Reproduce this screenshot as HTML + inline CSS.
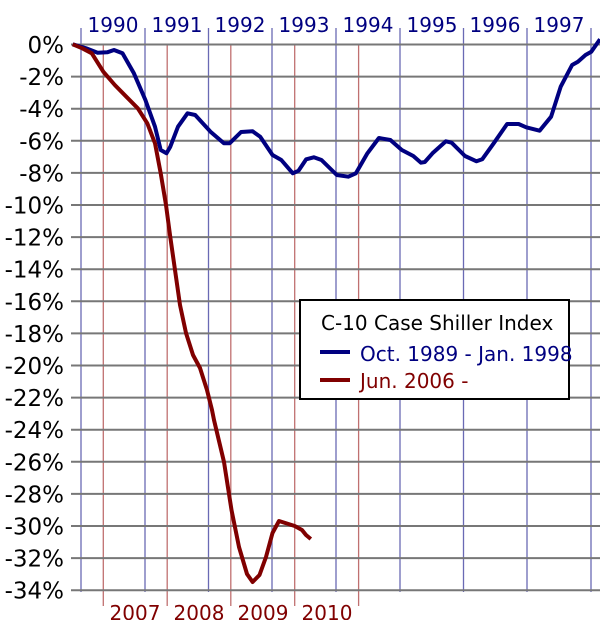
<!DOCTYPE html>
<html><head><meta charset="utf-8"><style>
html,body{margin:0;padding:0;background:#fff;}
svg{display:block;font-family:"DejaVu Sans","Liberation Sans",sans-serif;}
</style></head><body>
<svg width="600" height="620" viewBox="0 0 600 620" xmlns="http://www.w3.org/2000/svg">
<g stroke="#6a6ab4" stroke-width="1.3">
<line x1="81" y1="28" x2="81" y2="592"/><line x1="145" y1="28" x2="145" y2="592"/><line x1="208.5" y1="28" x2="208.5" y2="592"/><line x1="272" y1="28" x2="272" y2="592"/><line x1="336" y1="28" x2="336" y2="592"/><line x1="400" y1="28" x2="400" y2="592"/><line x1="463.5" y1="28" x2="463.5" y2="592"/><line x1="527" y1="28" x2="527" y2="592"/><line x1="591" y1="28" x2="591" y2="592"/>
</g>
<g stroke="#c07070" stroke-width="1.3">
<line x1="103.3" y1="44" x2="103.3" y2="606"/><line x1="167.2" y1="44" x2="167.2" y2="606"/><line x1="230.8" y1="44" x2="230.8" y2="606"/><line x1="294.7" y1="44" x2="294.7" y2="606"/><line x1="358.6" y1="44" x2="358.6" y2="606"/>
</g>
<g stroke="#777" stroke-width="2">
<line x1="71" y1="44.5" x2="600" y2="44.5"/><line x1="71" y1="76.6" x2="600" y2="76.6"/><line x1="71" y1="108.7" x2="600" y2="108.7"/><line x1="71" y1="140.8" x2="600" y2="140.8"/><line x1="71" y1="172.9" x2="600" y2="172.9"/><line x1="71" y1="205" x2="600" y2="205"/><line x1="71" y1="237.1" x2="600" y2="237.1"/><line x1="71" y1="269.2" x2="600" y2="269.2"/><line x1="71" y1="301.3" x2="600" y2="301.3"/><line x1="71" y1="333.4" x2="600" y2="333.4"/><line x1="71" y1="365.5" x2="600" y2="365.5"/><line x1="71" y1="397.6" x2="600" y2="397.6"/><line x1="71" y1="429.7" x2="600" y2="429.7"/><line x1="71" y1="461.8" x2="600" y2="461.8"/><line x1="71" y1="493.9" x2="600" y2="493.9"/><line x1="71" y1="526" x2="600" y2="526"/><line x1="71" y1="558.1" x2="600" y2="558.1"/><line x1="71" y1="590.2" x2="600" y2="590.2"/>
</g>
<g font-size="23" text-anchor="end" fill="#000">
<text x="64" y="53">0%</text><text x="64" y="85.1">-2%</text><text x="64" y="117.2">-4%</text><text x="64" y="149.3">-6%</text><text x="64" y="181.4">-8%</text><text x="64" y="213.5">-10%</text><text x="64" y="245.6">-12%</text><text x="64" y="277.7">-14%</text><text x="64" y="309.8">-16%</text><text x="64" y="341.9">-18%</text><text x="64" y="374">-20%</text><text x="64" y="406.1">-22%</text><text x="64" y="438.2">-24%</text><text x="64" y="470.3">-26%</text><text x="64" y="502.4">-28%</text><text x="64" y="534.5">-30%</text><text x="64" y="566.6">-32%</text><text x="64" y="598.7">-34%</text>
</g>
<g font-size="20" fill="#000080" text-anchor="middle">
<text x="113" y="32">1990</text><text x="177" y="32">1991</text><text x="240" y="32">1992</text><text x="304" y="32">1993</text><text x="368" y="32">1994</text><text x="432" y="32">1995</text><text x="495" y="32">1996</text><text x="559" y="32">1997</text>
</g>
<g font-size="20" fill="#800000" text-anchor="middle">
<text x="135" y="620">2007</text><text x="199" y="620">2008</text><text x="263" y="620">2009</text><text x="327" y="620">2010</text>
</g>
<polyline fill="none" stroke="#000080" stroke-width="4" stroke-linejoin="round" points="72.7,44.3 86.1,48.3 97.6,52.7 107.2,52.3 114,50 122.5,53.3 133.9,73.3 145.4,100 155,126.7 160.7,150 166.5,153.3 170.3,146.7 178,126.7 187.5,113.3 195.2,115 202.8,123.3 210.5,131.7 223.9,143.3 229.6,143.3 241.1,132 252.6,131.3 260.2,136.7 272.5,155 281.3,160 292.8,173.3 298.5,170.7 306.2,159.3 313.8,157.3 321.5,160 336.8,175 348.3,176.7 355.9,173.3 367.4,153.3 378.9,138 390.4,140 401.8,150 413.3,156 421,162.7 424.8,162 432.5,153.3 445.9,141.3 451.6,142.7 465,156 476.5,161.3 482.2,159.3 493.7,143.3 507.1,124 518.6,124 526.2,127.3 539.6,130.7 551.1,116.7 560.7,86.7 572.1,65 577.9,61.7 585.5,55 591.3,51.7 600,39.3"/>
<polyline fill="none" stroke="#800000" stroke-width="4" stroke-linejoin="round" points="72.7,44.3 82.3,48.3 91.8,53.3 103.3,71.7 114.8,85 126.3,96.7 137.8,108.3 147.3,123.3 155,143.3 160.7,173.3 166,205 170,235 175,270 180,305 186,333 193,355 200,368 207,390 212,410 214,420 224,462 231.5,510 239,547 247,574 252.6,582 259.5,575 266,557 272.5,533 279,521 294.7,526 302,530 306,535 310.8,539"/>
<rect x="300" y="300" width="269" height="99" fill="#fff" stroke="#000" stroke-width="2"/>
<text x="321" y="330" font-size="20" fill="#000">C-10 Case Shiller Index</text>
<line x1="320" y1="352" x2="350" y2="352" stroke="#000080" stroke-width="4"/>
<text x="360" y="361" font-size="20" fill="#000080">Oct. 1989 - Jan. 1998</text>
<line x1="320" y1="380" x2="350" y2="380" stroke="#800000" stroke-width="4"/>
<text x="360" y="388" font-size="20" fill="#800000">Jun. 2006 -</text>
</svg>
</body></html>
